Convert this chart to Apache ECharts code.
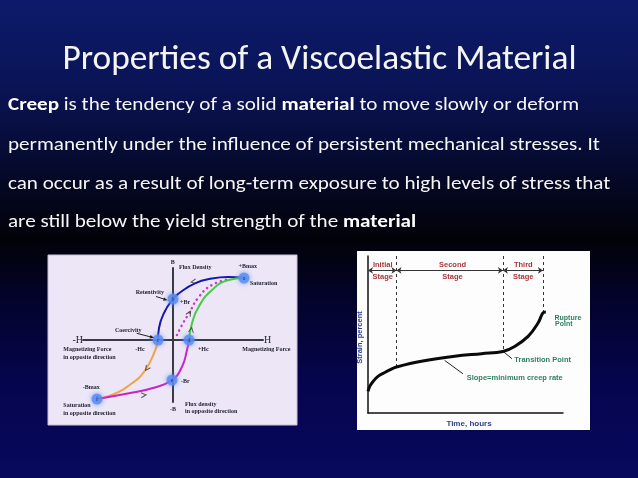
<!DOCTYPE html>
<html><head><meta charset="utf-8">
<script src="https://cdn.jsdelivr.net/npm/echarts/dist/echarts.min.js"></script>
<style>html,body{margin:0;padding:0;background:#000;}#c{width:638px;height:478px;}</style>
</head><body><div id="c"></div>
<script>
// ---- Slide text ----
const TITLE = 'Properties of a Viscoelastic Material';
const BODY_LINES = [
  '{b|Creep} is the tendency of a solid {b|material} to move slowly or deform',
  'permanently under the influence of persistent mechanical stresses. It',
  'can occur as a result of long-term exposure to high levels of stress that',
  'are still below the yield strength of the {b|material}'
];

// ---- Hysteresis loop (H, B) ----
const HYST_BLUE = [[71,62],[55,63],[39,61.5],[22,56.7],[6,46.7],[0,41],[-9,27],[-14,12],[-15,0]];
const HYST_ORANGE = [[-15,0],[-17.7,-10],[-27.7,-30],[-41,-43.3],[-61,-55],[-76,-59]];
const HYST_MAGENTA = [[-76,-59],[-44,-53.3],[-21,-48.3],[-1,-40],[9,-26.7],[14,-10],[16,0]];
const HYST_GREEN = [[16,0],[19,16.7],[25.7,33.3],[39,50],[55.7,60],[71,62]];
const HYST_INITIAL = [[4,5],[9,15],[16,26.7],[26,43.3],[39,55],[55,60.5]];
const HYST_POINT_NAMES = ['a','b','c','d','e','f'];
const HYST_POINT_H = [71,0,-15,16,-1,-76];
const HYST_POINT_B = [62,41,0,0,-40,-59];
const HYST_ARROW_POS = [[20.6,58.3],[18.3,10],[-26,-28.3],[-29.4,-55],[16.3,26.7]];
const HYST_ARROW_ANGLE = [190,80,235,5,60];

// ---- Creep curve (time, strain) ----
const CREEP_TIME   = [0,0.9,2.6,5.1,8.6,12,14.6,27.4,44.5,58.2,69.2,75.2,82.1,87.2,89.7,91.2];
const CREEP_STRAIN = [13.8,17,20.1,23.3,25.8,28,29.3,32.9,36.1,37.8,39.2,42.4,48.8,57.3,63.7,64.3];
const STAGE_BOUNDS = [0,14.6,69.2,89.7];
const STAGE_BOUND_STRAIN = [29.3,39.2,63.7];
const STAGE_NAMES = ['Initial','Second','Third'];

const chart = echarts.init(document.getElementById('c'), null, {renderer:'canvas'});

const serifBold = 'bold 6px "Liberation Serif", "DejaVu Serif", serif';
const sansBold = 'bold 7.5px "Liberation Sans", Arial, sans-serif';
const red = '#a8343a', green = '#2f7f5f', navy = '#2c3e86';
const slideFont = 'Carlito, Lato, sans-serif';

function txt(x, y, text, font, fill, align) {
  return {type:'text', x:x, y:y, z:100, silent:true,
    style:{text:text, font:font, fill:fill, textAlign:align||'left', textVerticalAlign:'middle', align:align||'left', verticalAlign:'middle'}};
}

const graphics = [
  {type:'rect', z:-100, shape:{x:0,y:0,width:638,height:478},
   style:{fill:{type:'linear',x:0,y:0,x2:0,y2:1,colorStops:[
     {offset:0,color:'#0c1a6a'},{offset:0.18,color:'#0a1456'},{offset:0.35,color:'#050a2c'},
     {offset:0.5,color:'#010208'},{offset:0.62,color:'#03032a'},{offset:0.8,color:'#05054e'},{offset:1,color:'#08085e'}]}}},
  {type:'rect', z:-50, shape:{x:48,y:255,width:249,height:170}, style:{fill:'#ece6f6', stroke:'#c9c0da', lineWidth:1}},
  {type:'rect', z:-50, shape:{x:357,y:251,width:233,height:179}, style:{fill:'#fdfdfd'}},
  // title and body
  {type:'text', x:319.5, y:60, z:100, scaleX:1.04, style:{text:TITLE, font:'34px ' + slideFont, fill:'#f4f4f4', textAlign:'center', textVerticalAlign:'middle', align:'center', verticalAlign:'middle'}}
];
const bodyY = [105,145,184,222];
BODY_LINES.forEach((t,i)=>{
  graphics.push({type:'text', x:8, y:bodyY[i], z:100, scaleX:1.11, style:{text:t, fontSize:19, fontFamily:slideFont, fill:'#f6f6f6', textAlign:'left', textVerticalAlign:'middle', align:'left', verticalAlign:'middle',
    rich:{b:{fontSize:19, fontFamily:slideFont, fontWeight:'bold', fill:'#ffffff', color:'#ffffff'}}}});
});
// hysteresis labels
const ink = '#1e1e2e';
graphics.push(
  txt(172.7,262,'B',serifBold,ink,'center'),
  txt(179,267.3,'Flux Density',serifBold,ink),
  txt(247.7,266.7,'+Bmax',serifBold,ink,'center'),
  txt(250,283.3,'Saturation',serifBold,ink),
  txt(135.7,292.7,'Retentivity',serifBold,ink),
  txt(180,302.7,'+Br',serifBold,ink),
  txt(115,330,'Coercivity',serifBold,ink),
  txt(83,340,'-H','10px "Liberation Serif", serif',ink,'right'),
  txt(264,340,'H','10px "Liberation Serif", serif',ink,'left'),
  txt(63.3,349.7,'Magnetizing Force',serifBold,ink),
  txt(63.3,357.7,'in opposite direction',serifBold,ink),
  txt(140,349,'-Hc',serifBold,ink,'center'),
  txt(203.3,349,'+Hc',serifBold,ink,'center'),
  txt(242.3,349,'Magnetizing Force',serifBold,ink),
  txt(181,381.7,'-Br',serifBold,ink),
  txt(91.3,387.3,'-Bmax',serifBold,ink,'center'),
  txt(63.3,405,'Saturation',serifBold,ink),
  txt(63.3,413.3,'in opposite direction',serifBold,ink),
  txt(173,409,'-B',serifBold,ink,'center'),
  txt(185,404,'Flux density',serifBold,ink),
  txt(185,411.7,'in opposite direction',serifBold,ink),
  {type:'line', z:100, shape:{x1:156,y1:296.5,x2:166,y2:299.7}, style:{stroke:'#222',lineWidth:1}},
  {type:'polygon', z:100, shape:{points:[[167.5,300.2],[163,300.8],[164.2,297.4]]}, style:{fill:'#222'}},
  {type:'line', z:100, shape:{x1:136.7,y1:333.3,x2:152.5,y2:337.4}, style:{stroke:'#222',lineWidth:1}},
  {type:'polygon', z:100, shape:{points:[[154,337.8],[149.5,338.5],[150.6,335]]}, style:{fill:'#222'}}
);
// creep labels
const stageCx = [382.7,452.5,523.3];
STAGE_NAMES.forEach((n,i)=>{
  graphics.push(txt(stageCx[i],264.5,n,sansBold,red,'center'));
  graphics.push(txt(stageCx[i],277,'Stage',sansBold,red,'center'));
});
graphics.push(
  txt(554.5,318.3,'Rupture','bold 7px "Liberation Sans", Arial, sans-serif',green),
  txt(555,324.5,'Point','bold 7px "Liberation Sans", Arial, sans-serif',green),
  txt(514.3,360,'Transition Point',sansBold,green),
  txt(466.7,377.7,'Slope=minimum creep rate',sansBold,green),
  txt(469,423.3,'Time, hours','bold 8px "Liberation Sans", Arial, sans-serif',navy,'center'),
  {type:'text', x:360, y:337.5, rotation:Math.PI/2, z:100,
   style:{text:'Strain, percent', font:'bold 7.5px "Liberation Sans", Arial, sans-serif', fill:navy, textAlign:'center', textVerticalAlign:'middle', align:'center', verticalAlign:'middle'}}
);

const hide = {axisLabel:{show:false}, axisTick:{show:false}, splitLine:{show:false}};
const curve = (data, color, extra) => Object.assign({type:'line', xAxisIndex:0, yAxisIndex:0, data:data, smooth:0.5, symbol:'none', z:5,
  lineStyle:{color:color, width:2}}, extra||{});

const chevron = 'path://M0,0 L10,5 L0,10';
const stageLines = STAGE_NAMES.map((n,i)=>({coords:[[STAGE_BOUNDS[i],90.8],[STAGE_BOUNDS[i+1],90.8]]}));
const dashLines = STAGE_BOUNDS.slice(1).map((x,i)=>({coords:[[x,100],[x,STAGE_BOUND_STRAIN[i]]]}));

chart.setOption({
  animation:false,
  graphic:{elements:graphics},
  grid:[
    {left:83, top:268, width:180, height:134},
    {left:368, top:256, width:195, height:157}
  ],
  xAxis:[
    Object.assign({type:'value', gridIndex:0, min:-90, max:90, axisLine:{onZero:true, lineStyle:{color:'#3a3a44', width:2}}}, hide),
    Object.assign({type:'value', gridIndex:1, min:0, max:100, axisLine:{onZero:false, lineStyle:{color:'#111', width:1.5}}}, hide)
  ],
  yAxis:[
    Object.assign({type:'value', gridIndex:0, min:-62, max:72, axisLine:{onZero:true, lineStyle:{color:'#3a3a44', width:2}}}, hide),
    Object.assign({type:'value', gridIndex:1, min:0, max:100, axisLine:{onZero:false, lineStyle:{color:'#111', width:1.5}}}, hide)
  ],
  series:[
    curve(HYST_INITIAL, '#c73cc7', {lineStyle:{color:'#c73cc7', width:2.5, type:[0.1,5], cap:'round'}}),
    curve(HYST_BLUE, '#1818a8'),
    curve(HYST_ORANGE, '#efa445'),
    curve(HYST_MAGENTA, '#c825c8'),
    curve(HYST_GREEN, '#44cc44'),
    {type:'scatter', xAxisIndex:0, yAxisIndex:0, z:6, symbol:chevron, symbolSize:[5,5],
     data:HYST_ARROW_POS.map((p,i)=>({value:p, symbolRotate:HYST_ARROW_ANGLE[i]})),
     itemStyle:{color:'rgba(0,0,0,0)', borderColor:'#333', borderWidth:1}},
    {type:'scatter', xAxisIndex:0, yAxisIndex:0, z:8, symbolSize:11,
     data:HYST_POINT_NAMES.map((n,i)=>({name:n, value:[HYST_POINT_H[i], HYST_POINT_B[i]]})),
     itemStyle:{color:'#5a8cf2', shadowBlur:5, shadowColor:'#5a8cf2'},
     label:{show:true, position:'inside', formatter:'{b}', fontSize:6, color:'#1a1a40', fontFamily:'serif'}},
    {type:'line', xAxisIndex:1, yAxisIndex:1, z:5, smooth:0.4, symbol:'none',
     data:CREEP_TIME.map((t,i)=>[t, CREEP_STRAIN[i]]), lineStyle:{color:'#0a0a0a', width:3}},
    {type:'lines', coordinateSystem:'cartesian2d', xAxisIndex:1, yAxisIndex:1, z:4,
     data:dashLines, symbol:'none', lineStyle:{color:'#333', width:1, type:[3,3], opacity:1}},
    {type:'lines', coordinateSystem:'cartesian2d', xAxisIndex:1, yAxisIndex:1, z:4,
     data:stageLines, symbol:['arrow','arrow'], symbolSize:5, lineStyle:{color:'#333', width:1, opacity:1}},
    {type:'lines', coordinateSystem:'cartesian2d', xAxisIndex:1, yAxisIndex:1, z:4,
     data:[{coords:[[69.7,38.8],[73.8,34.6]]},{coords:[[39.3,33.5],[48.7,25.0]]}],
     symbol:'none', lineStyle:{color:'#222', width:1, opacity:1}}
  ]
});
</script></body></html>
